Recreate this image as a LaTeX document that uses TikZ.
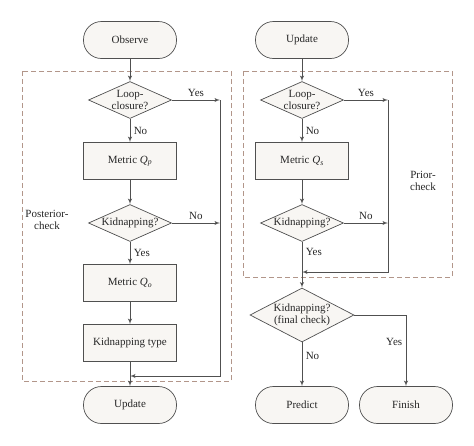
\documentclass[tikz,border=0pt]{standalone}
\usepackage{fontspec}
\setmainfont{Liberation Serif}
\usetikzlibrary{arrows,shapes.geometric}
\definecolor{linegray}{RGB}{80,80,80}
\definecolor{boxfill}{RGB}{248,246,243}
\definecolor{dashbrown}{RGB}{178,150,138}

\begin{document}
\begin{tikzpicture}[x=1pt,y=-1pt,>=latex',
	every node/.style={font=\fontsize{11}{12}\selectfont,text=black!85,align=center},
	term/.style={draw=linegray,fill=boxfill,line width=0.7pt,rounded corners=18pt,minimum width=93pt,minimum height=37pt},
	proc/.style={draw=linegray,fill=boxfill,line width=0.7pt,minimum width=93pt,minimum height=37pt},
	dec/.style={draw=linegray,fill=boxfill,line width=0.7pt,diamond,inner sep=0pt,minimum width=83pt,minimum height=37pt},
	flow/.style={draw=linegray,line width=0.9pt},
	region/.style={draw=dashbrown,line width=0.8pt,dash pattern=on 5pt off 3pt}]
	\useasboundingbox (0,0) rectangle (474,445);
	% dashed check regions
	\draw [region] (22,71) rectangle (231,381);
	\draw [region] (243,71) rectangle (452,277);
	\node (postlbl) at (47,220) {Posterior-\\check};
	\node (priorlbl) at (423,181) {Prior-\\check};
	% left column
	\node [term] (obs) at (130,40) {Observe};
	\node [dec] (lc1) at (130,100) {};
	\node (lc1t) at (lc1) {Loop-\\closure?};
	\node [proc] (mp) at (130,161) {Metric \textit{Q}\textsubscript{\textit{p}}};
	\node [dec] (kn1) at (130,223) {};
	\node (kn1t) at (kn1) {Kidnapping?};
	\node [proc] (mo) at (130,283) {Metric \textit{Q}\textsubscript{\textit{o}}};
	\node [proc] (kt) at (130,343) {Kidnapping type};
	\node [term] (up1) at (130,405) {Update};
	\coordinate (r1) at (220,100);
	\coordinate (r1b) at (220,223);
	\coordinate (r2) at (220,376);
	\coordinate (j1) at (130,376);
	% right column
	\node [term] (up2) at (302,40) {Update};
	\node [dec] (lc2) at (302,100) {};
	\node (lc2t) at (lc2) {Loop-\\closure?};
	\node [proc] (ms) at (302,161) {Metric \textit{Q}\textsubscript{\textit{s}}};
	\node [dec] (kn2) at (302,223) {};
	\node (kn2t) at (kn2) {Kidnapping?};
	\node [dec,minimum width=104pt,minimum height=54pt] (fc) at (302,315) {};
	\node (fct) at (fc) {Kidnapping?\\(final check)};
	\node [term] (pr) at (302,405) {Predict};
	\node [term] (fi) at (406,405) {Finish};
	\coordinate (s1) at (388,100);
	\coordinate (s1b) at (388,223);
	\coordinate (s2) at (388,272);
	\coordinate (j2) at (302,272);
	% left connectors
	\draw [flow,->] (obs) -- (lc1);
	\draw [flow,->] (lc1) -- node [right] {No} (mp);
	\draw [flow,->] (mp) -- (kn1);
	\draw [flow,->] (kn1) -- node [right] {Yes} (mo);
	\draw [flow,->] (mo) -- (kt);
	\draw [flow,->] (kt) -- (up1);
	\draw [flow,->] (lc1.east) -- node [above] {Yes} (r1);
	\draw [flow,->] (kn1.east) -- node [above] {No} (r1b);
	\draw [flow,->] (r1) -- (r2) -- (j1);
	% right connectors
	\draw [flow,->] (up2) -- (lc2);
	\draw [flow,->] (lc2) -- node [right] {No} (ms);
	\draw [flow,->] (ms) -- (kn2);
	\draw [flow,->] (kn2) -- node [pos=0.22,right] {Yes} (fc);
	\draw [flow,->] (lc2.east) -- node [above] {Yes} (s1);
	\draw [flow,->] (kn2.east) -- node [above] {No} (s1b);
	\draw [flow,->] (s1) -- (s2) -- (j2);
	\draw [flow,->] (fc) -- node [pos=0.3,right] {No} (pr);
	\draw [flow,->] (fc.east) -| node [pos=0.69,left] {Yes} (fi.north);
\end{tikzpicture}
\end{document}
